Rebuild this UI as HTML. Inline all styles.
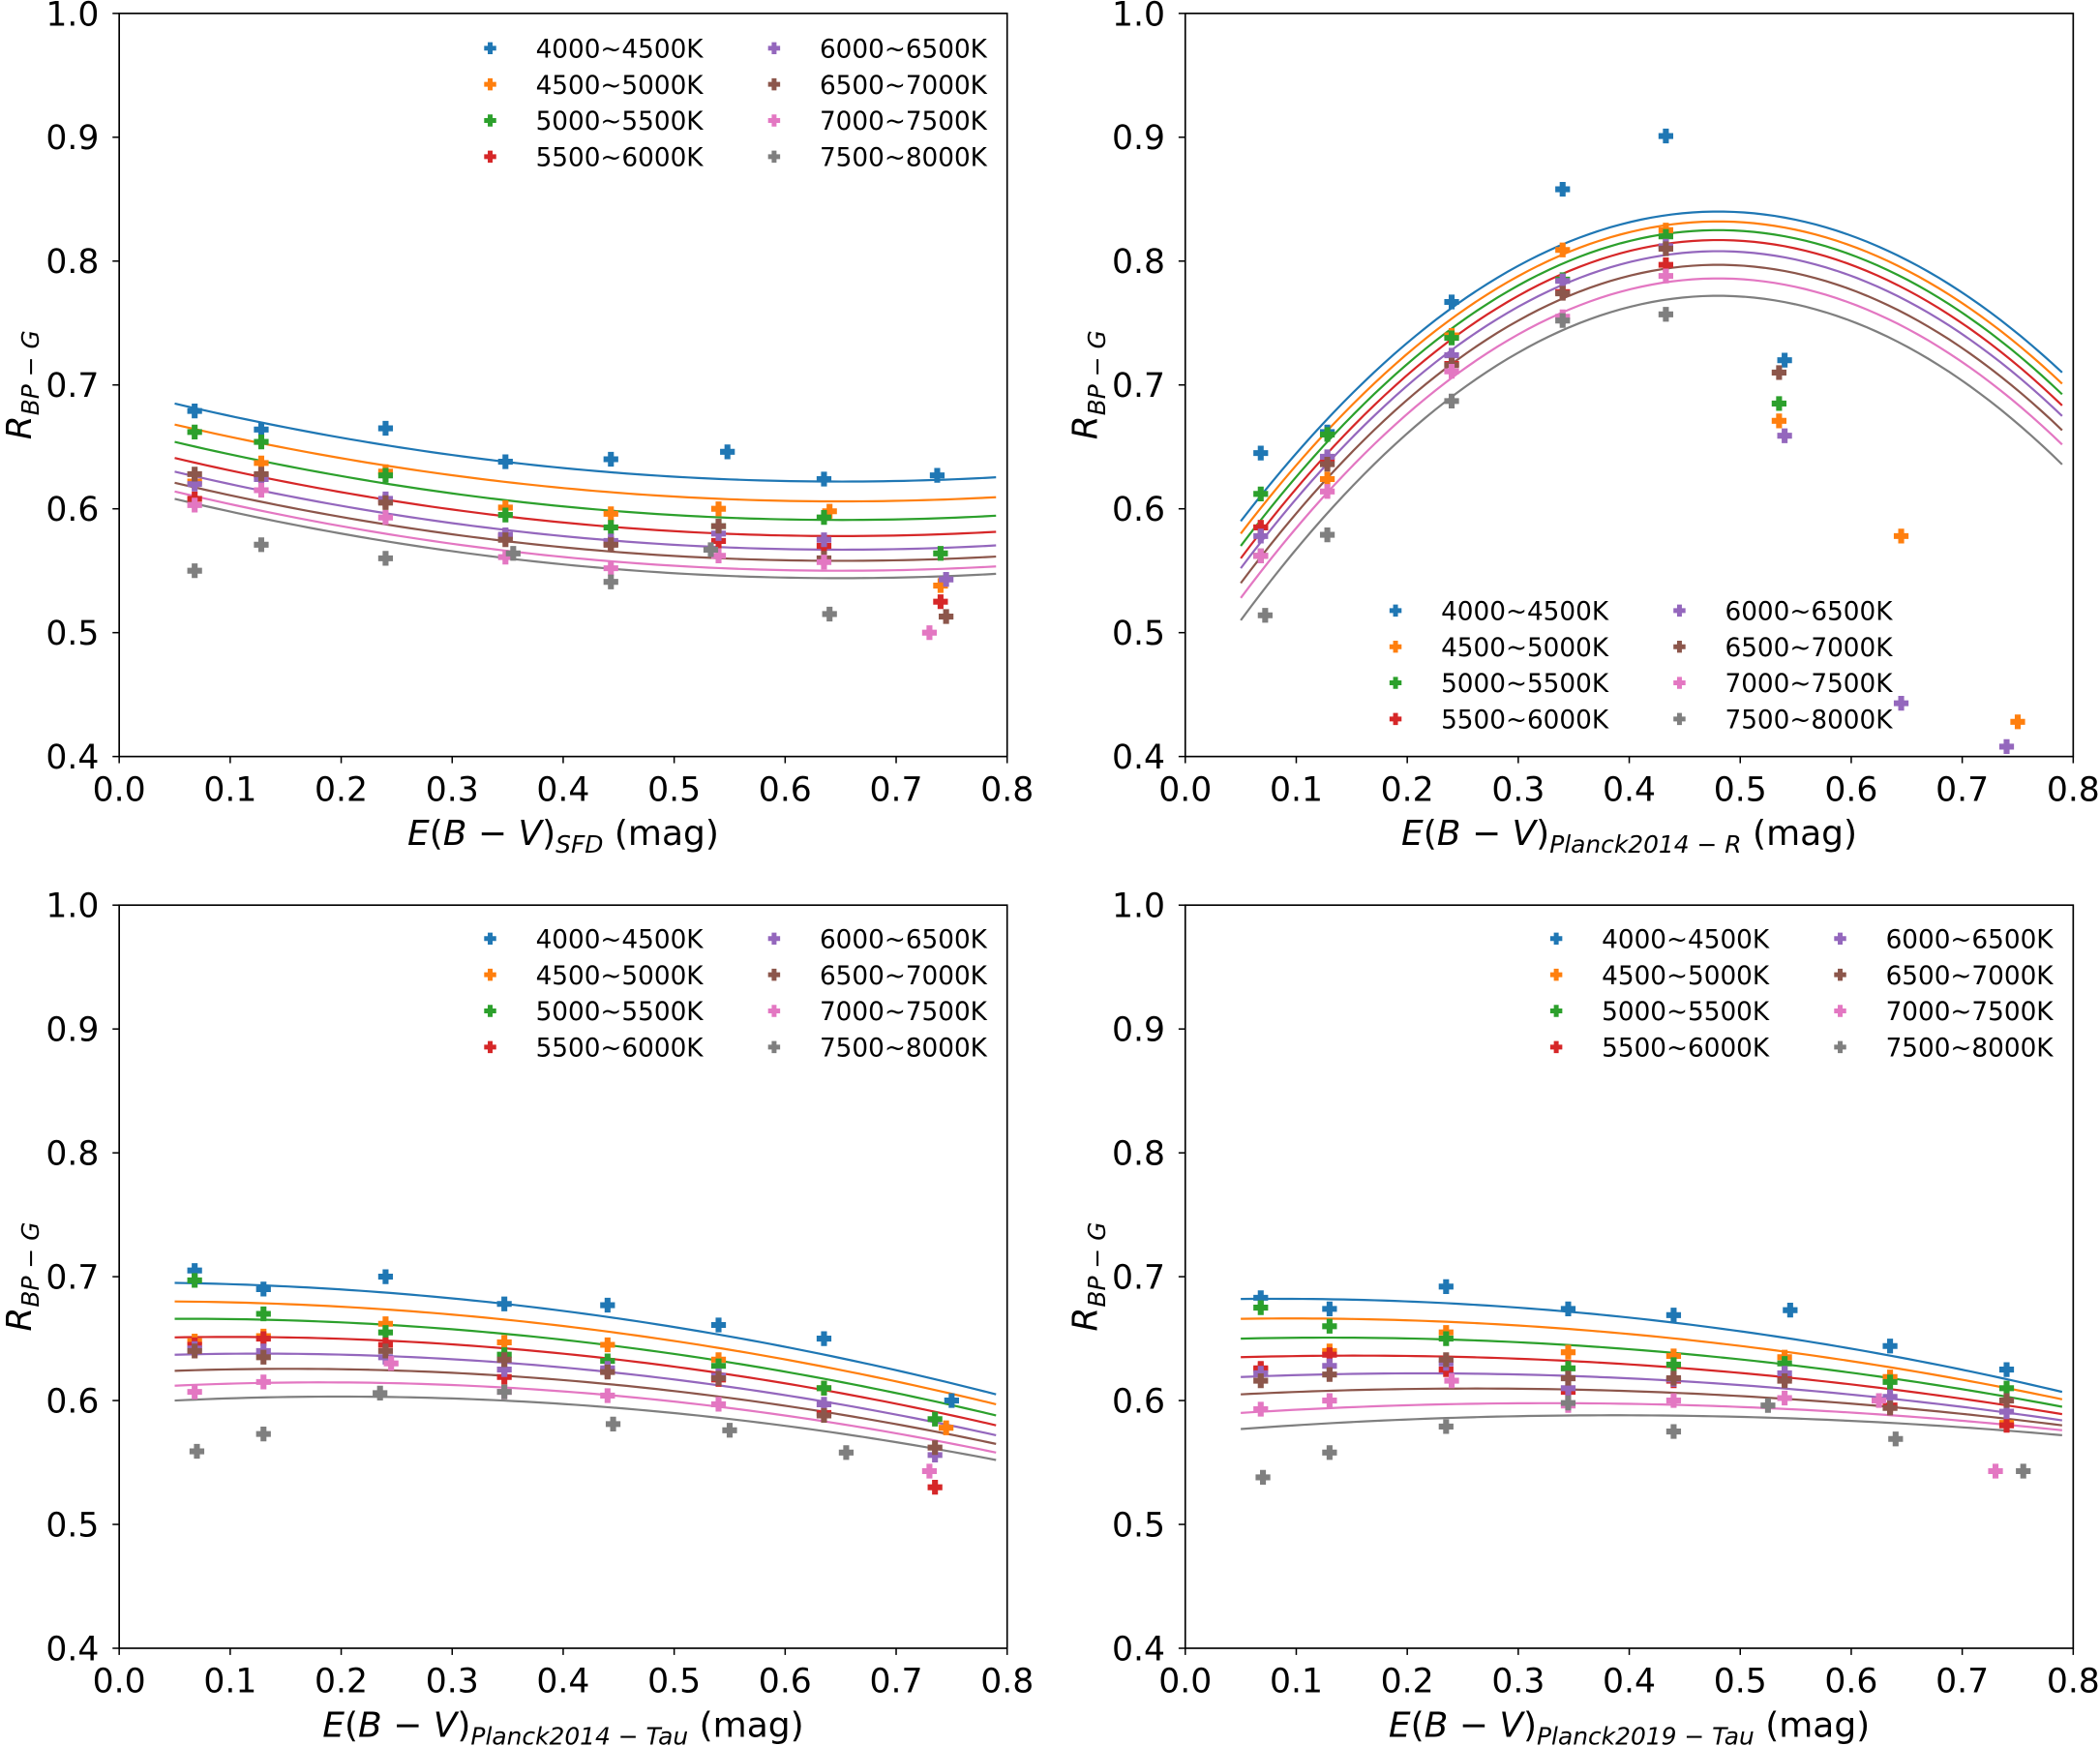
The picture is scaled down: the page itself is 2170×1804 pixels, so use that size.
<!DOCTYPE html>
<html><head><meta charset="utf-8"><style>
html,body{margin:0;padding:0;background:#fff;}
svg{display:block;}
text{font-family:"DejaVu Sans","Liberation Sans",sans-serif;fill:#000;}
</style></head><body>
<svg id="s" width="2170" height="1804" viewBox="0 0 1568 1304" preserveAspectRatio="none" xmlns="http://www.w3.org/2000/svg"></svg>
<script>
const C=["#1f77b4","#ff7f0e","#2ca02c","#d62728","#9467bd","#8c564b","#e377c2","#7f7f7f"];
const L=["4000~4500K","4500~5000K","5000~5500K","5500~6000K","6000~6500K","6500~7000K","7000~7500K","7500~8000K"];
const svg=document.getElementById('s');
let out='';
function plus(x,y,c,a,b){a=a||5.5;b=b||2.2;
 return `<polygon fill="${c}" points="${x-b},${y-a} ${x+b},${y-a} ${x+b},${y-b} ${x+a},${y-b} ${x+a},${y+b} ${x+b},${y+b} ${x+b},${y+a} ${x-b},${y+a} ${x-b},${y+b} ${x-a},${y+b} ${x-a},${y-b} ${x-b},${y-b}"/>`;}
function panel(P){
 const x0=P.x0,yt=P.yt,w=663,h=555,yb=yt+h;
 const X=v=>x0+v/0.8*w, Y=v=>yb-(v-0.4)/0.6*h;
 let s='';
 P.curves.forEach((cv,i)=>{let d='';
  for(let k=0;k<=80;k++){const x=0.05+0.74*k/80;const v=cv(x);d+=(k?'L':'M')+X(x).toFixed(2)+','+Y(v).toFixed(2);}
  s+=`<path d="${d}" fill="none" stroke="${C[i]}" stroke-width="1.6"/>`;});
 P.pts.forEach(r=>{const xs=r[0];for(let i=0;i<8;i++){let v=r[1][i];if(v==null)continue;let x=xs;if(Array.isArray(v)){x=v[1];v=v[0];}s+=plus(X(x),Y(v),C[i]);}});
 s+=`<rect x="${x0}" y="${yt}" width="${w}" height="${h}" fill="none" stroke="#000" stroke-width="1.2"/>`;
 for(let i=0;i<=8;i++){const x=X(i/10);s+=`<line x1="${x}" y1="${yb}" x2="${x}" y2="${yb+5}" stroke="#000" stroke-width="1.1"/><text x="${x}" y="${yb+33}" font-size="25" text-anchor="middle">${(i/10).toFixed(1)}</text>`;}
 for(let i=0;i<=6;i++){const v=0.4+i/10,y=Y(v);s+=`<line x1="${x0-5}" y1="${y}" x2="${x0}" y2="${y}" stroke="#000" stroke-width="1.1"/><text x="${x0-15}" y="${y+9}" font-size="25" text-anchor="end">${v.toFixed(1)}</text>`;}
 s+=`<text x="${x0+w/2}" y="${yb+66}" font-size="26" text-anchor="middle"><tspan font-style="italic">E</tspan>(<tspan font-style="italic">B</tspan> − <tspan font-style="italic">V</tspan>)<tspan font-style="italic" font-size="18" dy="6">${P.sub}</tspan><tspan dy="-6"> (mag)</tspan></text>`;
 s+=`<text transform="translate(${x0-66},${yt+h/2}) rotate(-90)" font-size="26" text-anchor="middle"><tspan font-style="italic">R</tspan><tspan font-style="italic" font-size="18" dy="6">BP − G</tspan></text>`;
 for(let i=0;i<8;i++){const col=i<4?0:1,row=i%4;const mx=P.lx+col*212,my=P.ly+row*27;
  s+=plus(mx,my,C[i],4.5,1.8);
  s+=`<text x="${mx+34}" y="${my+7}" font-size="19">${L[i]}</text>`;}
 return s;}
function q3(a,b,c){return x=>{const t=(x-0.05)/0.37;return a*(t-1)*(t-2)/2 - b*t*(t-2) + c*t*(t-1)/2;};}
const p1k=[0.622,0.606,0.591,0.578,0.567,0.558,0.550,0.544],p1s=[0.685,0.668,0.654,0.641,0.630,0.621,0.614,0.608];
const c1=p1k.map((k,i)=>{const a=(p1s[i]-k)/0.36;return x=>a*(x-0.65)**2+k;});
const p2k=[0.840,0.832,0.825,0.817,0.808,0.797,0.786,0.772];
const p2s=[0.59,0.580,0.570,0.560,0.552,0.540,0.528,0.510];
const c2=p2k.map((k,i)=>{const a=(k-p2s[i])/0.1849;return x=>k-a*(x-0.48)**2;});
const c3=[[.695,.670,.605],[.680,.658,.597],[.666,.647,.588],[.651,.636,.580],[.637,.625,.572],[.624,.615,.565],[.612,.606,.558],[.600,.596,.552]].map(a=>q3(...a));
const c4=[[.682,.665,.607],[.666,.652,.601],[.650,.640,.595],[.635,.628,.589],[.619,.617,.584],[.605,.607,.580],[.590,.597,.576],[.577,.588,.572]].map(a=>q3(...a));
const pts1=[[.068,[.679,.622,.662,.608,.620,.628,.603,.550]],[.128,[.664,.637,.654,.627,.624,.628,.615,.571]],[.24,[.665,.630,.627,.606,.608,.605,.593,.560]],
[.348,[.638,.601,.595,.578,.579,.575,.561,[.564,.355]]],[.443,[.640,.596,.585,.572,.574,.571,.552,.541]],[.54,[[.646,.548],.600,.586,.574,.580,.586,.562,[.567,.533]]],
[.635,[.624,[.598,.64],.593,.570,.575,.560,.557,[.515,.64]]],[.74,[[.627,.737],.538,.564,.525,[.543,.745],[.513,.745],[.500,.73],null]]];
const pts2=[[.068,[.645,.585,.612,.585,.578,.562,.562,[.514,.072]]],[.128,[.662,.624,.660,.640,.642,.636,.614,.579]],[.24,[.767,.740,.738,.717,.724,.716,.711,.687]],
[.34,[.858,.809,.785,.775,.784,.774,.755,.752]],[.433,[.901,.825,.820,.797,.812,.810,.788,.757]],[.535,[[.720,.54],.671,.685,null,[.659,.54],.710,null,null]],
[.645,[null,.578,null,null,.443,null,null,null]],[.75,[null,.428,null,null,[.408,.74],null,null,null]]];
const pts3=[[.068,[.705,.648,.697,.645,.642,.640,.607,[.559,.07]]],[.13,[.690,.652,.670,.650,.640,.635,.615,.573]],[.24,[.700,.662,.655,.645,.635,.640,[.630,.245],[.606,.235]]],
[.347,[.678,.647,.637,.619,.625,.633,.607,.607]],[.44,[.677,.645,.632,.624,.626,.623,.604,[.581,.445]]],[.54,[.661,.633,.628,.617,.620,.618,.597,[.576,.55]]],
[.635,[.650,.610,.610,.590,.597,.588,null,[.558,.655]]],[.735,[[.600,.75],[.578,.745],.585,.530,.556,.562,[.543,.73],null]]];
const pts4=[[.068,[.683,.625,.675,.626,.622,.616,.593,[.538,.07]]],[.13,[.674,.640,.660,.637,.628,.621,.600,.558]],[.235,[.692,.655,.650,.625,.630,.633,[.616,.24],.579]],
[.345,[.674,.639,.626,.607,.610,.618,.596,.598]],[.44,[.669,.636,.629,.616,.617,.618,.600,.575]],[.54,[[.673,.545],.635,.630,.618,.622,.616,.602,[.596,.525]]],
[.635,[.644,.619,.615,.596,.603,.594,[.600,.625],[.569,.64]]],[.74,[.625,.582,.610,.580,.591,.600,[.543,.73],[.543,.755]]]];
out+=panel({x0:89,yt:10,curves:c1,pts:pts1,sub:"SFD",lx:366,ly:36});
out+=panel({x0:885,yt:10,curves:c2,pts:pts2,sub:"Planck2014 − R",lx:1042,ly:456});
out+=panel({x0:89,yt:676,curves:c3,pts:pts3,sub:"Planck2014 − Tau",lx:366,ly:701});
out+=panel({x0:885,yt:676,curves:c4,pts:pts4,sub:"Planck2019 − Tau",lx:1162,ly:701});
svg.innerHTML=out;
</script>
</body></html>
